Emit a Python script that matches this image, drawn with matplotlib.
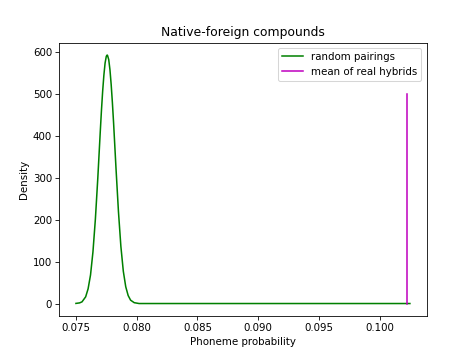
import matplotlib
matplotlib.use("Agg")
import matplotlib.pyplot as plt

# Density curve of random pairings
x_random = [0.0750, 0.0753, 0.0755, 0.0758, 0.0760, 0.0762, 0.0764, 0.0766, 0.0768,
            0.0770, 0.0771, 0.0772, 0.0773, 0.0774, 0.0775, 0.07757, 0.0776,
            0.0777, 0.0778, 0.0779, 0.0780, 0.0781, 0.0783,
            0.0785, 0.0787, 0.0789, 0.0791, 0.0793, 0.0795, 0.0798, 0.0802,
            0.0850, 0.0900, 0.0950, 0.1000, 0.1025]
density_random = [0.3, 1.5, 4, 16, 35, 68, 123, 201, 299,
                  408, 460, 506, 544, 573, 589, 592, 591,
                  581, 557, 522, 479, 430, 321,
                  219, 136, 77, 40, 19, 8, 2, 0,
                  0, 0, 0, 0, 0]

# Mean of real hybrids
mean_real = 0.10223
mean_height = [0, 500]

title = "Native-foreign compounds"
xlabel = "Phoneme probability"
ylabel = "Density"

dpi = 74
fig = plt.figure(figsize=(474 / dpi, 355 / dpi), dpi=dpi)
ax = fig.add_subplot(111)
ax.plot(x_random, density_random, color="green", label="random pairings")
ax.plot([mean_real, mean_real], mean_height, color="m", label="mean of real hybrids")
ax.set_title(title)
ax.set_xlabel(xlabel)
ax.set_ylabel(ylabel)
ax.legend(loc="upper right")
fig.savefig("out.png", dpi=dpi)
